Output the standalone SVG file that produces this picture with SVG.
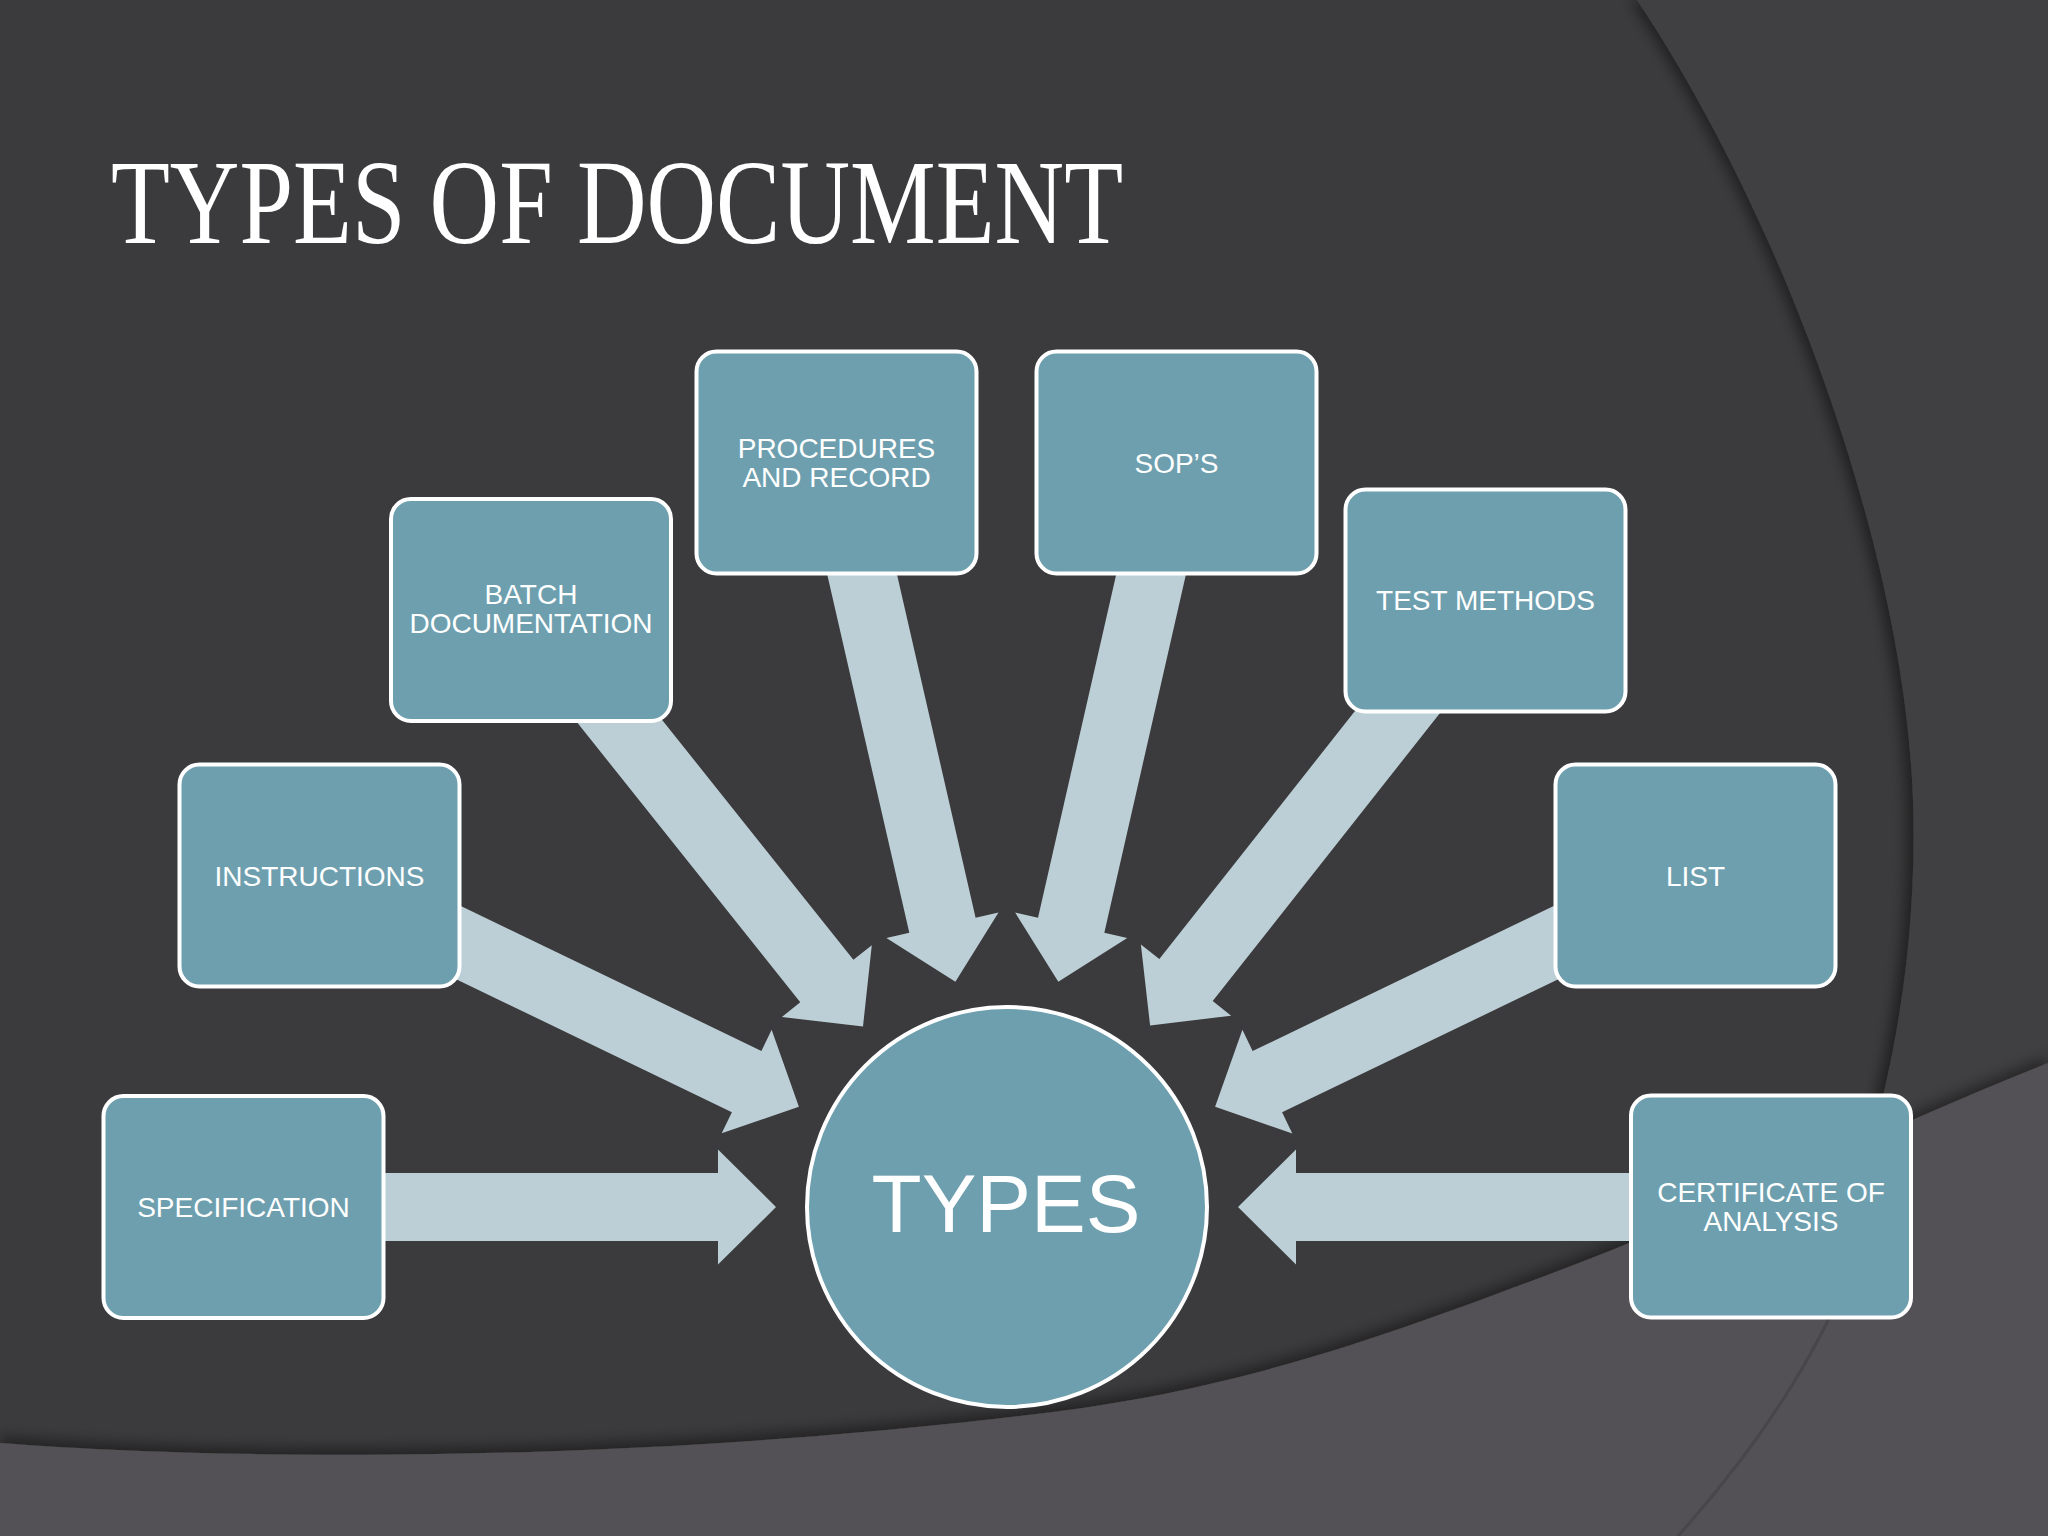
<svg xmlns="http://www.w3.org/2000/svg" width="2048" height="1536" viewBox="0 0 2048 1536">
  <defs>
    <style>
      .box { fill: #6E9FAF; stroke: #FFFFFF; stroke-width: 4; }
      .lbl { fill: #FFFFFF; font-family: "Liberation Sans", Arial, sans-serif; font-size: 28px; text-anchor: middle; }
      .arrow { fill: #BCCFD6; }
    </style>
    <filter id="shL" x="-20%" y="-20%" width="140%" height="140%">
      <feDropShadow dx="-7" dy="0" stdDeviation="7" flood-color="#000000" flood-opacity="0.45"/>
    </filter>
    <filter id="shU" x="-20%" y="-20%" width="140%" height="140%">
      <feDropShadow dx="0" dy="-7" stdDeviation="7" flood-color="#000000" flood-opacity="0.4"/>
    </filter>
    <polygon id="arr" points="0,0 -58,-57.5 -58,-34 -540,-34 -540,34 -58,34 -58,57.5"/>
  </defs>

  <!-- background -->
  <g id="background">
    <rect x="0" y="0" width="2048" height="1536" fill="#3B3A3C"/>
    <path d="M1637,0 C1790,230 1905,560 1913,800 C1921,1040 1850,1300 1678,1536 L2048,1536 L2048,0 Z" fill="#414042" filter="url(#shL)"/>
    <path d="M0,1443 C250,1462 650,1462 1045,1413 C1250,1388 1400,1330 1550,1274 C1720,1210 1880,1130 2048,1063 L2048,1536 L0,1536 Z" fill="#525154" filter="url(#shU)"/>
    <path d="M1895,1100 C1875,1260 1800,1400 1678,1536" fill="none" stroke="#474649" stroke-width="3"/>
  </g>

  <!-- title -->
  <text x="111" y="243" fill="#FFFFFF" font-family="'Liberation Serif', 'Times New Roman', serif" font-size="120" textLength="1012" lengthAdjust="spacingAndGlyphs">TYPES OF DOCUMENT</text>

  <!-- connectors -->
  <g id="connectors" class="arrow">
    <use href="#arr" transform="translate(776,1207) rotate(0)"/>
    <use href="#arr" transform="translate(798.9,1106.7) rotate(25.74)"/>
    <use href="#arr" transform="translate(863,1026.4) rotate(51.43)"/>
    <use href="#arr" transform="translate(955.4,981.8) rotate(77.1)"/>
    <use href="#arr" transform="translate(1058.3,981.8) rotate(102.83)"/>
    <use href="#arr" transform="translate(1150.1,1025.6) rotate(128.27)"/>
    <use href="#arr" transform="translate(1215.1,1106.8) rotate(154.29)"/>
    <use href="#arr" transform="translate(1238,1207) rotate(180)"/>
  </g>

  <!-- center -->
  <g id="types">
    <circle cx="1007" cy="1207" r="200" fill="#6E9FAF" stroke="#FFFFFF" stroke-width="4"/>
    <text x="1006" y="1232" fill="#FFFFFF" font-family="'Liberation Sans', Arial, sans-serif" font-size="82" text-anchor="middle">TYPES</text>
  </g>

  <g id="specification">
    <rect class="box" x="103.5" y="1096" width="280" height="222" rx="20"/>
    <text class="lbl" x="243.5" y="1217">SPECIFICATION</text>
  </g>
  <g id="instructions">
    <rect class="box" x="179.5" y="764.5" width="280" height="222" rx="20"/>
    <text class="lbl" x="319.5" y="885.5">INSTRUCTIONS</text>
  </g>
  <g id="batch-documentation">
    <rect class="box" x="391" y="499" width="280" height="222" rx="20"/>
    <text class="lbl" x="531" y="604">BATCH</text>
    <text class="lbl" x="531" y="633">DOCUMENTATION</text>
  </g>
  <g id="procedures-and-record">
    <rect class="box" x="696.5" y="351.5" width="280" height="222" rx="20"/>
    <text class="lbl" x="836.5" y="457.5">PROCEDURES</text>
    <text class="lbl" x="836.5" y="486.5">AND RECORD</text>
  </g>
  <g id="sops">
    <rect class="box" x="1036.5" y="351.5" width="280" height="222" rx="20"/>
    <text class="lbl" x="1176.5" y="472.5">SOP’S</text>
  </g>
  <g id="test-methods">
    <rect class="box" x="1345.5" y="489.5" width="280" height="222" rx="20"/>
    <text class="lbl" x="1485.5" y="609.5">TEST METHODS</text>
  </g>
  <g id="list">
    <rect class="box" x="1555.5" y="764.5" width="280" height="222" rx="20"/>
    <text class="lbl" x="1695.5" y="885.5">LIST</text>
  </g>
  <g id="certificate-of-analysis">
    <rect class="box" x="1631" y="1095.5" width="280" height="222" rx="20"/>
    <text class="lbl" x="1771" y="1202">CERTIFICATE OF</text>
    <text class="lbl" x="1771" y="1231">ANALYSIS</text>
  </g>
</svg>
